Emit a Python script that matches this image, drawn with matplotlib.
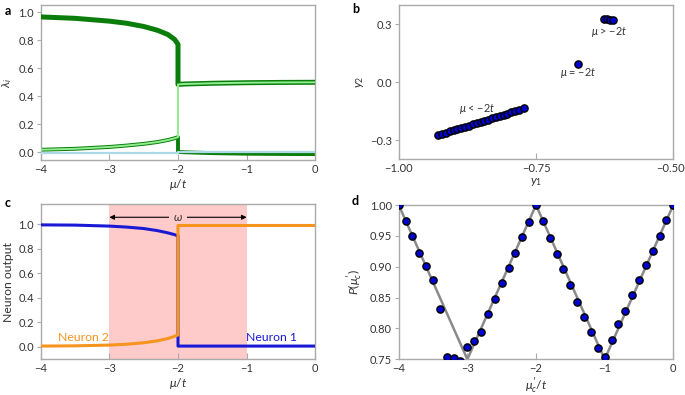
import matplotlib
matplotlib.use("Agg")
import matplotlib.pyplot as plt
import matplotlib.transforms as mtransforms

# ---------------- data ----------------
# panel a: eigenvalues lambda_i vs mu/t
a_x = [-4.0, -3.5, -3.0, -2.75, -2.5, -2.3, -2.15, -2.05, -2.0,
       -2.0, -1.9, -1.5, -1.0, -0.5, 0.0]
lam1 = [0.965, 0.955, 0.935, 0.92, 0.897, 0.87, 0.84, 0.805, 0.77,
        0.484, 0.487, 0.492, 0.496, 0.498, 0.499]
lam2 = [0.018, 0.025, 0.038, 0.048, 0.06, 0.073, 0.087, 0.1, 0.108,
        0.484, 0.487, 0.492, 0.496, 0.498, 0.499]
lam3 = [0.018, 0.025, 0.038, 0.048, 0.06, 0.073, 0.087, 0.1, 0.108,
        0.003, 0.0, -0.006, -0.01, -0.012, -0.013]
lam4 = [-0.003, -0.003, -0.003, -0.003, -0.003, -0.003, -0.003, -0.003, -0.003,
        0.0, 0.0, 0.0, 0.0, 0.0, 0.0]

# panel b: hidden-layer outputs
b_low_y1 = [-0.928, -0.921, -0.914, -0.907, -0.900, -0.893, -0.886, -0.879,
            -0.872, -0.865, -0.858, -0.851, -0.844, -0.837, -0.830, -0.823,
            -0.816, -0.809, -0.802, -0.795, -0.788, -0.781, -0.772]
b_low_y2 = [-0.274, -0.268, -0.262, -0.255, -0.249, -0.243, -0.237, -0.231,
            -0.225, -0.218, -0.212, -0.206, -0.200, -0.194, -0.188, -0.181,
            -0.175, -0.169, -0.163, -0.157, -0.151, -0.144, -0.136]
b_mid_y1 = [-0.674]
b_mid_y2 = [0.096]
b_high_y1 = [-0.626, -0.620, -0.615, -0.609]
b_high_y2 = [0.328, 0.326, 0.324, 0.322]

# panel c: neuron outputs
c_x = [-4.0, -3.5, -3.0, -2.75, -2.5, -2.3, -2.15, -2.05, -2.0,
       -2.0, -1.5, -1.0, -0.5, 0.0]
neuron1 = [0.995, 0.993, 0.985, 0.977, 0.965, 0.948, 0.93, 0.915, 0.905,
           0.005, 0.005, 0.005, 0.005, 0.005]
neuron2 = [0.005, 0.007, 0.013, 0.02, 0.032, 0.048, 0.066, 0.085, 0.096,
           0.99, 0.99, 0.99, 0.99, 0.99]
window = [-3.0, -1.0]

# panel d: performance vs proposed critical point
d_line_x = [-4.0, -3.0, -2.0, -1.0, 0.0]
d_line_y = [1.0, 0.75, 1.0, 0.75, 1.0]
d_x = [-4.0, -3.9, -3.8, -3.7, -3.6, -3.5, -3.4, -3.3, -3.2, -3.1,
       -3.0, -2.9, -2.8, -2.7, -2.6, -2.5, -2.4, -2.3, -2.2, -2.1,
       -2.0, -1.9, -1.8, -1.7, -1.6, -1.5, -1.4, -1.3, -1.2, -1.1,
       -1.0, -0.9, -0.8, -0.7, -0.6, -0.5, -0.4, -0.3, -0.2, -0.1, 0.0]
d_y = [1.0, 0.974, 0.949, 0.923, 0.901, 0.878, 0.831, 0.753, 0.752, 0.748,
       0.770, 0.780, 0.795, 0.823, 0.848, 0.873, 0.898, 0.923, 0.948, 0.973,
       1.0, 0.974, 0.946, 0.920, 0.897, 0.870, 0.843, 0.819, 0.795, 0.769,
       0.754, 0.781, 0.807, 0.829, 0.854, 0.879, 0.903, 0.926, 0.950, 0.975, 1.0]

# ---------------- style ----------------
plt.rcParams['font.family'] = ['Lato', 'DejaVu Sans']
plt.rcParams['mathtext.fontset'] = 'custom'
plt.rcParams['mathtext.it'] = 'Lato:italic'
plt.rcParams['mathtext.rm'] = 'Lato'
FS = 8
LFS = 8.8
TXT = '#333333'
SPINE = '#aaaaaa'
DKGREEN = '#0b7d0b'
LTGREEN = '#90ee90'
LTBLUE = '#add8e6'
BLUE = '#1a1ad6'
ORANGE = '#f7941d'
PINK = '#ffcaca'
M = '\u2212'

fig = plt.figure(figsize=(6.85, 3.95), dpi=100)
W, H = 685, 395


def mkax(l, t, r, b):
    return fig.add_axes([l / W, 1 - b / H, (r - l) / W, (b - t) / H])


def style(ax):
    for s in ax.spines.values():
        s.set_color(SPINE)
        s.set_linewidth(1.0)
    ax.tick_params(axis='x', direction='in', length=4, color=SPINE,
                   labelsize=FS, labelcolor=TXT, pad=3)
    ax.tick_params(axis='y', direction='out', length=3, color=SPINE,
                   labelsize=FS, labelcolor=TXT, pad=2)


axa = mkax(40.7, 5, 315.3, 160)
axb = mkax(398.7, 5, 673.3, 159.3)
axc = mkax(40.7, 204.3, 315.3, 359.3)
axd = mkax(398.7, 205, 673.3, 359.3)
for ax in (axa, axb, axc, axd):
    style(ax)

# ---- panel a ----
axa.plot(a_x, lam3, color=DKGREEN, lw=2.8, solid_capstyle='butt', zorder=2)
axa.plot(a_x, lam4, color=LTBLUE, lw=1.6, zorder=3)
axa.plot(a_x, lam1, color=DKGREEN, lw=3.6, solid_capstyle='butt', zorder=4)
axa.plot(a_x, lam2, color=LTGREEN, lw=1.4, zorder=5)
axa.set_xlim(-4, 0)
axa.set_ylim(-0.055, 1.05)
axa.set_xticks([-4, -3, -2, -1, 0])
axa.set_yticks([0.0, 0.2, 0.4, 0.6, 0.8, 1.0])
axa.set_xticklabels([M + '4', M + '3', M + '2', M + '1', '0'])
axa.set_yticklabels(['0.0', '0.2', '0.4', '0.6', '0.8', '1.0'])
axa.set_xlabel(r'$\mu/t$', fontsize=LFS, color=TXT, labelpad=1)
axa.set_ylabel(r'$\lambda_i$', fontsize=LFS, color=TXT, labelpad=3)

# ---- panel b ----
mk = dict(marker='o', ms=5.2, mfc='#0000d0', mec='black', mew=1.0, ls='none')
axb.plot(b_low_y1, b_low_y2, **mk)
axb.plot(b_mid_y1, b_mid_y2, **mk)
axb.plot(b_high_y1, b_high_y2, **mk)
axb.set_xlim(-1.0, -0.5)
axb.set_ylim(-0.4, 0.4)
axb.set_xticks([-1.0, -0.75, -0.5])
axb.set_xticklabels([M + '1.00', M + '0.75', M + '0.50'])
axb.set_yticks([-0.3, 0.0, 0.3])
axb.set_yticklabels([M + '0.3', '0.0', '0.3'])
shift = mtransforms.ScaledTranslation(-3 / 100, 0, fig.dpi_scale_trans)
lastlab = axb.get_xticklabels()[-1]
lastlab.set_transform(lastlab.get_transform() + shift)
axb.set_xlabel(r'$y_1$', fontsize=LFS, color=TXT, labelpad=1)
axb.set_ylabel(r'$y_2$', fontsize=LFS, color=TXT, labelpad=3)
afs = 7.8
axb.text(-0.858, -0.14, r'$\mu$ < ' + M + r'2$t$',
         fontsize=afs, color=TXT, ha='center', va='center')
axb.text(-0.673, 0.047, r'$\mu$ = ' + M + r'2$t$',
         fontsize=afs, color=TXT, ha='center', va='center')
axb.text(-0.617, 0.262, r'$\mu$ > ' + M + r'2$t$',
         fontsize=afs, color=TXT, ha='center', va='center')

# ---- panel c ----
axc.axvspan(window[0], window[1], color=PINK, lw=0, zorder=0)
axc.annotate('', xy=(window[0], 1.057), xytext=(window[1], 1.057),
             arrowprops=dict(arrowstyle='<|-|>', color='black', lw=0.8,
                             mutation_scale=7, shrinkA=0, shrinkB=0), zorder=1)
axc.text(-2.0, 1.057, r'$\omega$', fontsize=8.5, color=TXT, ha='center', va='center',
         bbox=dict(boxstyle='square,pad=0.35', fc=PINK, ec='none'), zorder=2)
axc.plot(c_x, neuron1, color=BLUE, lw=2.2, zorder=3)
axc.plot(c_x, neuron2, color=ORANGE, lw=2.2, zorder=4)
axc.text(-3.37, 0.075, 'Neuron 2', color=ORANGE, fontsize=LFS, ha='center', va='center')
axc.text(-0.64, 0.075, 'Neuron 1', color=BLUE, fontsize=LFS, ha='center', va='center')
axc.set_xlim(-4, 0)
axc.set_ylim(-0.103, 1.163)
axc.set_xticks([-4, -3, -2, -1, 0])
axc.set_xticklabels([M + '4', M + '3', M + '2', M + '1', '0'])
axc.set_yticks([0.0, 0.2, 0.4, 0.6, 0.8, 1.0])
axc.set_yticklabels(['0.0', '0.2', '0.4', '0.6', '0.8', '1.0'])
axc.set_xlabel(r'$\mu/t$', fontsize=LFS, color=TXT, labelpad=1)
axc.set_ylabel('Neuron output', fontsize=LFS, color=TXT, labelpad=3)

# ---- panel d ----
axd.plot(d_line_x, d_line_y, color='#8a8a8a', lw=1.8, zorder=2)
axd.plot(d_x, d_y, zorder=3, **mk)
axd.set_xlim(-4, 0)
axd.set_ylim(0.75, 1.0)
axd.set_xticks([-4, -3, -2, -1, 0])
axd.set_xticklabels([M + '4', M + '3', M + '2', M + '1', '0'])
axd.set_yticks([0.75, 0.80, 0.85, 0.90, 0.95, 1.00])
axd.set_yticklabels(['0.75', '0.80', '0.85', '0.90', '0.95', '1.00'])
axd.set_xlabel(r"$\mu_c'/t$", fontsize=LFS, color=TXT, labelpad=1)
axd.set_ylabel(r"$P(\mu_c')$", fontsize=LFS, color=TXT, labelpad=3)

# panel letters
for lab, (x, y) in zip('abcd', [(5, 11), (352, 9), (5, 203), (352, 201)]):
    fig.text(x / W, 1 - y / H, lab, fontsize=9, fontweight='bold', color='black',
             ha='left', va='center')

fig.savefig('out.png', dpi=100)
